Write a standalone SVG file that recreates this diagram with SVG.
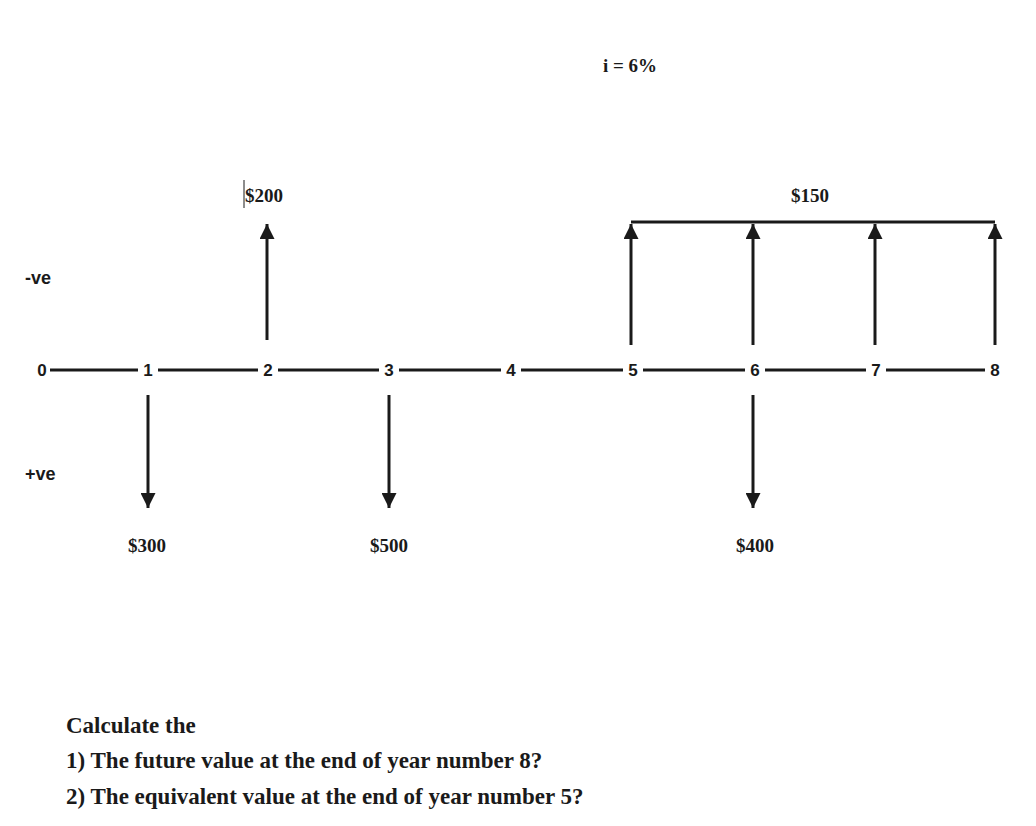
<svg xmlns="http://www.w3.org/2000/svg" width="1036" height="826" viewBox="0 0 1036 826">
<style>
.ax{font-family:"Liberation Sans",Arial,sans-serif;font-weight:bold;font-size:17px;fill:#1a1a1a;text-anchor:middle}
.lb{font-family:"Liberation Serif","Times New Roman",serif;font-weight:bold;font-size:19px;fill:#1a1a1a}
.q{font-family:"Liberation Serif","Times New Roman",serif;font-weight:bold;font-size:23px;fill:#1a1a1a}
.ln{stroke:#1a1a1a;stroke-width:3;fill:none}
</style>
<defs><marker id="ah" markerWidth="6" markerHeight="5" refX="5" refY="2.5" orient="auto" markerUnits="strokeWidth"><path d="M0,0L5,2.5L0,5z" fill="#1a1a1a"/></marker></defs>
<rect width="1036" height="826" fill="#fff"/>
<g id="connectors">
<path class="ln" d="M50,370H138M158,370H258M278,370H379M399,370H501M521,370H623M643,370H745M765,370H866M886,370H985"/>
<path class="ln" d="M631,222H995"/>
<path class="ln" marker-end="url(#ah)" d="M267,340V224"/>
<path class="ln" marker-end="url(#ah)" d="M631,345V224"/>
<path class="ln" marker-end="url(#ah)" d="M753,345V224"/>
<path class="ln" marker-end="url(#ah)" d="M875,345V224"/>
<path class="ln" marker-end="url(#ah)" d="M995,345V224"/>
<path class="ln" marker-end="url(#ah)" d="M148,395V508"/>
<path class="ln" marker-end="url(#ah)" d="M389,395V508"/>
<path class="ln" marker-end="url(#ah)" d="M753,395V508"/>
<line x1="244" y1="180" x2="244" y2="208" stroke="#1a1a1a" stroke-width="1"/>
</g>
<g id="axis-labels">
<text class="ax" x="42" y="376">0</text><text class="ax" x="148" y="376">1</text><text class="ax" x="268" y="376">2</text><text class="ax" x="389" y="376">3</text><text class="ax" x="511" y="376">4</text><text class="ax" x="633" y="376">5</text><text class="ax" x="755" y="376">6</text><text class="ax" x="876" y="376">7</text><text class="ax" x="995" y="376">8</text>
</g>
<g id="side"><text x="25" y="284" font-family="Liberation Sans,Arial,sans-serif" font-weight="bold" font-size="18" fill="#1a1a1a">-ve</text><text x="25" y="480" font-family="Liberation Sans,Arial,sans-serif" font-weight="bold" font-size="18" fill="#1a1a1a">+ve</text></g>
<g id="values">
<text class="lb" x="630" y="72" text-anchor="middle">i = 6%</text>
<text class="lb" x="245" y="202">$200</text>
<text class="lb" x="810" y="202" text-anchor="middle">$150</text>
<text class="lb" x="147" y="552" text-anchor="middle">$300</text>
<text class="lb" x="389" y="552" text-anchor="middle">$500</text>
<text class="lb" x="755" y="552" text-anchor="middle">$400</text>
</g>
<g id="question">
<text class="q" x="66" y="733">Calculate the</text>
<text class="q" x="66" y="768">1) The future value at the end of year number 8?</text>
<text class="q" x="66" y="804">2) The equivalent value at the end of year number 5?</text>
</g>
</svg>
